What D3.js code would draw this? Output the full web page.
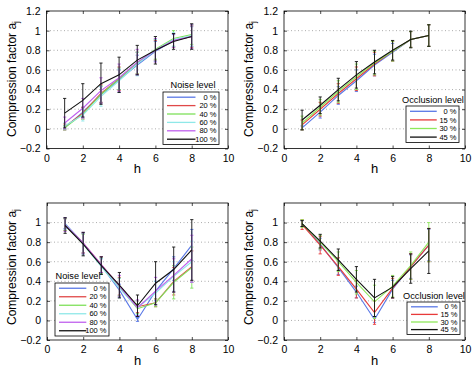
<!DOCTYPE html>
<html>
<head>
<meta charset="utf-8">
<script src="https://cdn.jsdelivr.net/npm/d3@7"></script>
<style>
  body { margin: 0; background: #fff; }
  text { font-family: "Liberation Sans", Arial, sans-serif; fill: #000; }
</style>
</head>
<body>
<svg id="chart" width="474" height="370"></svg>
<script>
// Data.
const hValues = [ 1, 2, 3, 4, 5, 6, 7, 8 ];
const xTicks  = [ 0, 2, 4, 6, 8, 10 ];
const yTicksTop    = [ -0.2, 0, 0.2, 0.4, 0.6, 0.8, 1, 1.2 ];
const yTicksBottom = [ -0.2, 0, 0.2, 0.4, 0.6, 0.8, 1 ];

const noiseLabels     = [ '0 %', '20 %', '40 %', '60 %', '80 %', '100 %' ];
const noiseColors     = [ '#5a78e6', '#e04848', '#7ee05a', '#8fe8e8', '#c060ee', '#111111' ];
const occlusionLabels = [ '0 %', '15 %', '30 %', '45 %' ];
const occlusionColors = [ '#5a78e6', '#e83a3a', '#8ee85a', '#111111' ];

// Top-left: noise, increasing
const noiseUpValues = [
  [ 0.01, 0.17, 0.35, 0.50, 0.65, 0.79, 0.90, 0.94 ],
  [ 0.02, 0.16, 0.36, 0.51, 0.67, 0.80, 0.90, 0.94 ],
  [ 0.01, 0.15, 0.35, 0.51, 0.67, 0.81, 0.92, 0.96 ],
  [ 0.03, 0.14, 0.33, 0.49, 0.66, 0.80, 0.91, 0.95 ],
  [ 0.06, 0.21, 0.39, 0.52, 0.68, 0.80, 0.90, 0.94 ],
  [ 0.16, 0.29, 0.46, 0.55, 0.70, 0.80, 0.89, 0.94 ]
];
const noiseUpErrors = [
  [ 0.02, 0.05, 0.08, 0.10, 0.10, 0.10, 0.06, 0.10 ],
  [ 0.03, 0.06, 0.09, 0.12, 0.11, 0.10, 0.07, 0.11 ],
  [ 0.02, 0.05, 0.09, 0.11, 0.11, 0.10, 0.08, 0.10 ],
  [ 0.03, 0.06, 0.10, 0.12, 0.12, 0.11, 0.07, 0.11 ],
  [ 0.06, 0.10, 0.13, 0.14, 0.13, 0.12, 0.07, 0.12 ],
  [ 0.15, 0.17, 0.21, 0.18, 0.15, 0.14, 0.08, 0.13 ]
];

// Top-right: occlusion, increasing
const occlusionUpValues = [
  [ 0.01, 0.17, 0.34, 0.49, 0.65, 0.78, 0.91, 0.95 ],
  [ 0.04, 0.20, 0.36, 0.51, 0.66, 0.79, 0.91, 0.95 ],
  [ 0.06, 0.22, 0.38, 0.53, 0.67, 0.79, 0.91, 0.95 ],
  [ 0.09, 0.24, 0.40, 0.55, 0.68, 0.80, 0.91, 0.95 ]
];
const occlusionUpErrors = [
  [ 0.02, 0.06, 0.09, 0.11, 0.11, 0.09, 0.08, 0.11 ],
  [ 0.05, 0.07, 0.10, 0.12, 0.12, 0.10, 0.08, 0.11 ],
  [ 0.07, 0.08, 0.11, 0.13, 0.12, 0.10, 0.08, 0.11 ],
  [ 0.10, 0.085, 0.115, 0.135, 0.12, 0.10, 0.085, 0.11 ]
];

// Bottom-left: noise, V shape
const noiseVValues = [
  [ 0.99, 0.79, 0.56, 0.31, 0.01, 0.30, 0.53, 0.77 ],
  [ 0.98, 0.79, 0.57, 0.35, 0.14, 0.18, 0.40, 0.55 ],
  [ 0.98, 0.78, 0.56, 0.34, 0.12, 0.18, 0.39, 0.54 ],
  [ 0.99, 0.78, 0.55, 0.33, 0.13, 0.28, 0.45, 0.60 ],
  [ 0.98, 0.79, 0.57, 0.35, 0.13, 0.30, 0.46, 0.63 ],
  [ 0.97, 0.78, 0.56, 0.36, 0.15, 0.38, 0.52, 0.72 ]
];
const noiseVErrors = [
  [ 0.05, 0.10, 0.07, 0.06, 0.02, 0.10, 0.12, 0.16 ],
  [ 0.06, 0.10, 0.08, 0.09, 0.06, 0.04, 0.14, 0.16 ],
  [ 0.06, 0.10, 0.08, 0.09, 0.05, 0.04, 0.17, 0.21 ],
  [ 0.06, 0.11, 0.08, 0.10, 0.07, 0.12, 0.15, 0.21 ],
  [ 0.07, 0.11, 0.08, 0.11, 0.08, 0.14, 0.17, 0.24 ],
  [ 0.08, 0.12, 0.09, 0.13, 0.11, 0.22, 0.23, 0.31 ]
];

// Bottom-right: occlusion, V shape
const occlusionVValues = [
  [ 0.99, 0.78, 0.54, 0.29, 0.01, 0.32, 0.55, 0.77 ],
  [ 0.98, 0.77, 0.55, 0.32, 0.08, 0.33, 0.55, 0.77 ],
  [ 0.99, 0.80, 0.60, 0.39, 0.19, 0.35, 0.56, 0.80 ],
  [ 0.99, 0.81, 0.62, 0.42, 0.23, 0.34, 0.53, 0.71 ]
];
const occlusionVErrors = [
  [ 0.03, 0.06, 0.07, 0.06, 0.03, 0.09, 0.12, 0.16 ],
  [ 0.05, 0.09, 0.09, 0.09, 0.12, 0.10, 0.13, 0.17 ],
  [ 0.04, 0.07, 0.10, 0.12, 0.17, 0.11, 0.14, 0.20 ],
  [ 0.03, 0.07, 0.11, 0.13, 0.19, 0.11, 0.15, 0.23 ]
];

// Panel layout
const panels = [
  { box: { left: 46.5, right: 228, top: 11,  bottom: 148.5 }, yTicks: yTicksTop,
    values: noiseUpValues, errors: noiseUpErrors, colors: noiseColors, labels: noiseLabels,
    legend: { title: 'Noise level', tx: 193, ty: 88, x: 163, y: 92, w: 56, row: 8.4 },
    labelY: 79, hY: 173 },
  { box: { left: 284, right: 465, top: 11,  bottom: 148.5 }, yTicks: yTicksTop,
    values: occlusionUpValues, errors: occlusionUpErrors, colors: occlusionColors, labels: occlusionLabels,
    legend: { title: 'Occlusion level', tx: 433, ty: 103, x: 406, y: 106, w: 53, row: 8.6 },
    labelY: 79, hY: 173 },
  { box: { left: 47, right: 228, top: 203, bottom: 340 }, yTicks: yTicksBottom,
    values: noiseVValues, errors: noiseVErrors, colors: noiseColors, labels: noiseLabels,
    legend: { title: 'Noise level', tx: 78, ty: 279, x: 55, y: 283, w: 54, row: 8.5 },
    labelY: 267, hY: 365 },
  { box: { left: 284, right: 465, top: 203, bottom: 340 }, yTicks: yTicksBottom,
    values: occlusionVValues, errors: occlusionVErrors, colors: occlusionColors, labels: occlusionLabels,
    legend: { title: 'Occlusion level', tx: 434, ty: 299, x: 407, y: 302, w: 53, row: 7.6 },
    labelY: 267, hY: 365 }
];

const svg = d3.select( '#chart' );

panels.forEach( p => {
  const b = p.box;
  const x = d3.scaleLinear().domain( [ 0, 10 ] ).range( [ b.left, b.right ] );
  const y = d3.scaleLinear().domain( [ -0.2, 1.2 ] ).range( [ b.bottom, b.top ] );
  const g = svg.append( 'g' );

  // dotted horizontal grid
  g.selectAll( 'line.grid' )
    .data( p.yTicks.filter( t => t > -0.2 && t < 1.2 ) )
    .enter().append( 'line' )
      .attr( 'x1', b.left ).attr( 'x2', b.right )
      .attr( 'y1', d => y( d ) ).attr( 'y2', d => y( d ) )
      .attr( 'stroke', '#888' ).attr( 'stroke-width', 0.7 )
      .attr( 'stroke-dasharray', '1,2.5' );

  // axes with inward ticks, on all four sides
  const tick = 3;
  g.append( 'g' ).attr( 'transform', `translate(0,${b.bottom})` )
    .call( d3.axisBottom( x ).tickValues( xTicks ).tickSizeInner( -tick ).tickSizeOuter( 0 ).tickPadding( 6 ) );
  g.append( 'g' ).attr( 'transform', `translate(0,${b.top})` )
    .call( d3.axisTop( x ).tickValues( xTicks ).tickSizeInner( -tick ).tickSizeOuter( 0 ).tickFormat( '' ) );
  g.append( 'g' ).attr( 'transform', `translate(${b.left},0)` )
    .call( d3.axisLeft( y ).tickValues( p.yTicks ).tickSizeInner( -tick ).tickSizeOuter( 0 ).tickPadding( 6 )
      .tickFormat( d => d3.format( '~g' )( d ) ) );
  g.append( 'g' ).attr( 'transform', `translate(${b.right},0)` )
    .call( d3.axisRight( y ).tickValues( p.yTicks ).tickSizeInner( -tick ).tickSizeOuter( 0 ).tickFormat( '' ) );
  g.selectAll( '.domain' ).remove();
  g.selectAll( '.tick line' ).attr( 'stroke', '#000' ).attr( 'stroke-width', 0.7 );
  g.selectAll( '.tick text' ).style( 'font-size', '10.5px' ).style( 'font-family', '"Liberation Sans", Arial, sans-serif' );

  // series: error bars then lines
  const line = d3.line().x( ( d, i ) => x( hValues[i] ) ).y( d => y( d ) );
  p.values.forEach( ( vals, s ) => {
    const col = p.colors[s];
    const sg = g.append( 'g' );
    vals.forEach( ( v, i ) => {
      const e = p.errors[s][i];
      const cx = x( hValues[i] );
      sg.append( 'line' )
        .attr( 'x1', cx ).attr( 'x2', cx )
        .attr( 'y1', y( v - e ) ).attr( 'y2', y( v + e ) )
        .attr( 'stroke', col ).attr( 'stroke-width', 0.9 );
      [ v - e, v + e ].forEach( w => {
        sg.append( 'line' )
          .attr( 'x1', cx - 1.6 ).attr( 'x2', cx + 1.6 )
          .attr( 'y1', y( w ) ).attr( 'y2', y( w ) )
          .attr( 'stroke', col ).attr( 'stroke-width', 0.9 );
      } );
    } );
    sg.append( 'path' )
      .attr( 'd', line( vals ) )
      .attr( 'fill', 'none' )
      .attr( 'stroke', col )
      .attr( 'stroke-width', 1.1 );
  } );

  // axes box
  g.append( 'rect' )
    .attr( 'x', b.left ).attr( 'y', b.top )
    .attr( 'width', b.right - b.left ).attr( 'height', b.bottom - b.top )
    .attr( 'fill', 'none' ).attr( 'stroke', '#000' ).attr( 'stroke-width', 0.8 );

  // legend
  const L = p.legend;
  g.append( 'text' )
    .attr( 'x', L.tx ).attr( 'y', L.ty )
    .attr( 'text-anchor', 'middle' )
    .style( 'font-size', '9.2px' )
    .text( L.title );
  const lh = p.labels.length * L.row + 2;
  g.append( 'rect' )
    .attr( 'x', L.x ).attr( 'y', L.y )
    .attr( 'width', L.w ).attr( 'height', lh )
    .attr( 'fill', '#fff' ).attr( 'stroke', '#000' ).attr( 'stroke-width', 0.8 );
  p.labels.forEach( ( lab, i ) => {
    const ry = L.y + 1 + L.row * ( i + 0.5 );
    g.append( 'line' )
      .attr( 'x1', L.x + 4 ).attr( 'x2', L.x + L.w * 0.58 )
      .attr( 'y1', ry ).attr( 'y2', ry )
      .attr( 'stroke', p.colors[i] ).attr( 'stroke-width', 1.3 );
    g.append( 'text' )
      .attr( 'x', L.x + L.w - 2.5 ).attr( 'y', ry + 2.6 )
      .attr( 'text-anchor', 'end' )
      .style( 'font-size', '7.5px' )
      .text( lab );
  } );

  // axis titles
  const ylab = g.append( 'text' )
    .attr( 'transform', `translate(${b.left - 31},${p.labelY}) rotate(-90)` )
    .attr( 'text-anchor', 'middle' )
    .style( 'font-size', '12px' );
  ylab.append( 'tspan' ).text( 'Compression factor a' );
  ylab.append( 'tspan' ).attr( 'dy', 3 ).style( 'font-size', '8.5px' ).text( 'j' );

  g.append( 'text' )
    .attr( 'x', ( b.left + b.right ) / 2 ).attr( 'y', p.hY )
    .attr( 'text-anchor', 'middle' )
    .style( 'font-size', '13px' )
    .text( 'h' );
} );
</script>
</body>
</html>
